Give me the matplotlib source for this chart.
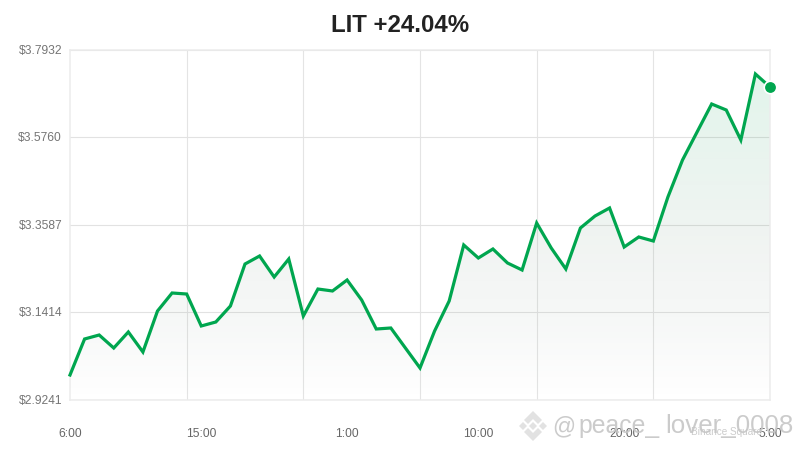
import numpy as np
import matplotlib
matplotlib.use("Agg")
import matplotlib.pyplot as plt
from matplotlib.patches import Polygon
from matplotlib.colors import to_rgb
from matplotlib.transforms import ScaledTranslation

prices = [2.9862, 3.0756, 3.0855, 3.0532, 3.0930, 3.0433, 3.1451, 3.1898, 3.1873, 3.1079,
          3.1178, 3.1575, 3.2618, 3.2817, 3.2295, 3.2742, 3.1327, 3.1997, 3.1948, 3.2221,
          3.1724, 3.1004, 3.1029, 3.0532, 3.0036, 3.0954, 3.1699, 3.3090, 3.2767, 3.2991,
          3.2643, 3.2469, 3.3636, 3.3015, 3.2494, 3.3512, 3.3810, 3.4009, 3.3040, 3.3289,
          3.3189, 3.4282, 3.5200, 3.5896, 3.6591, 3.6442, 3.5697, 3.7336, 3.7013]
y_ticks = [2.9241, 3.1414, 3.3587, 3.5760, 3.7932]
y_labels = ["$2.9241", "$3.1414", "$3.3587", "$3.5760", "$3.7932"]
x_label_pos = [0, 9, 19, 28, 38, 48]
x_labels = ["6:00", "15:00", "1:00", "10:00", "20:00", "5:00"]
x_grid = [8, 16, 24, 32, 40]
title = "LIT +24.04%"

plt.rcParams['font.family'] = ['Liberation Sans', 'DejaVu Sans']
GREEN = "#00a64f"
W, H = 800, 450
fig = plt.figure(figsize=(W / 100, H / 100), dpi=100, facecolor="white")
ax = fig.add_axes([70 / W, 1 - 400 / H, 700 / W, 350 / H])
x = np.arange(len(prices))

# Gradient area under the line: green at the top, fading through grey to nothing
poly = ax.fill_between(x, prices, y_ticks[0], color="none", lw=0)
t = np.linspace(0, 1, 256)
grad = np.zeros((256, 1, 4))
g = np.array(to_rgb(GREEN))
grey = np.array([0.36, 0.50, 0.42])
mix = np.clip(t / 0.55, 0, 1)[:, None]
grad[:, 0, :3] = g * (1 - mix) + grey * mix
grad[:, 0, 3] = np.interp(t, [0, 0.5, 0.78, 1.0], [0.115, 0.09, 0.05, 0.0])
im = ax.imshow(grad, aspect="auto", extent=[0, len(prices) - 1, y_ticks[0], max(prices)],
               origin="upper", zorder=1.5, interpolation="bilinear")
im.set_clip_path(poly.get_paths()[0], transform=ax.transData)
ax.set_xlim(0, len(prices) - 1)
ax.set_ylim(y_ticks[0], y_ticks[-1])

ax.plot(x, prices, color=GREEN, lw=2.3, solid_joinstyle="miter", zorder=3, clip_on=False)
ax.plot(x[-1], prices[-1], "o", ms=9, mfc=GREEN, mec="white", mew=1.2, zorder=4, clip_on=False)

ax.set_yticks(y_ticks, y_labels)
ax.set_xticks(x_label_pos, x_labels)
ax.set_xticks(x_grid, minor=True)
ax.tick_params(axis="both", which="both", length=0)
ax.tick_params(axis="y", labelsize=8.64, labelcolor="#757575", pad=5.7)
ax.tick_params(axis="x", labelsize=8.64, labelcolor="#666666", pad=20.2)
ax.grid(True, axis="y", color="#e2e2e2", lw=0.8, zorder=1)
ax.grid(True, axis="x", which="minor", color="#e4e4e4", lw=0.8, zorder=1)
ax.grid(False, axis="x", which="major")
ax.set_axisbelow(True)
for s in ax.spines.values():
    s.set_color("#ececec")
    s.set_linewidth(1.1)
    s.set_zorder(2)
up = ScaledTranslation(0, 0.5 / 100, fig.dpi_scale_trans)
for lab in ax.get_yticklabels():
    lab.set_transform(lab.get_transform() + up)

fig.text(400 / W, 1 - 25.5 / H, title, ha="center", va="center", fontsize=17.28,
         fontweight="bold", color="#222222")

# Watermark
wm = "#c6c6c6"
for left, word, size in [(552, "@", 16.5), (578, "peace_", 17.8), (665, "lover_0008", 18.6)]:
    fig.text(left / W, 1 - 433 / H, word, ha="left", va="baseline", fontsize=size,
             color=wm, alpha=0.9, zorder=10)
fig.text(691 / W, 1 - 435 / H, "Binance Square", ha="left", va="baseline", fontsize=7.2,
         color=wm, alpha=0.9, zorder=10)

cx, cy = 533, 426
logo_col = "#e2e2e2"
logo_shapes = [
    [(0, -15), (9, -6), (5, -2), (0, -7), (-5, -2), (-9, -6)],
    [(0, 15), (9, 6), (5, 2), (0, 7), (-5, 2), (-9, 6)],
    [(-14, 0), (-10, -4), (-6, 0), (-10, 4)],
    [(14, 0), (10, -4), (6, 0), (10, 4)],
    [(0, -4), (4, 0), (0, 4), (-4, 0)],
]
for shape in logo_shapes:
    pts = [((cx + a) / W, 1 - (cy + b) / H) for a, b in shape]
    fig.add_artist(Polygon(pts, closed=True, transform=fig.transFigure,
                           facecolor=logo_col, edgecolor="none", zorder=10))

fig.savefig("out.png", dpi=100, facecolor="white")
